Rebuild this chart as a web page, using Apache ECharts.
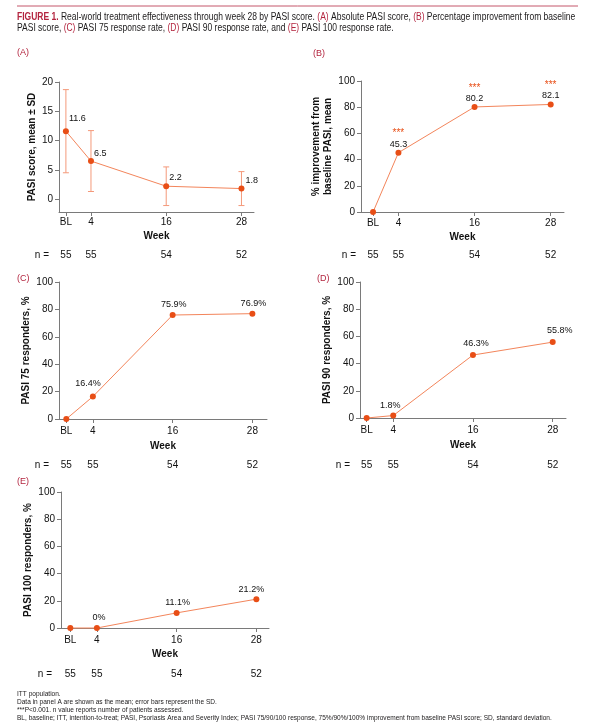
<!DOCTYPE html>
<html>
<head>
<meta charset="utf-8">
<script src="https://cdn.jsdelivr.net/npm/echarts@6/dist/echarts.min.js"></script>
<style>
  html, body { margin: 0; background: #fff; }
  #chart { width: 600px; height: 728px; }
</style>
</head>
<body>
<div id="chart"></div>
<script>
// data
const weeks = [0, 4, 16, 28];
const weekLabels = ['BL', '4', '16', '28'];
const nPatients = [55, 55, 54, 52];
const pasiMean = [11.6, 6.5, 2.2, 1.8];
const pasiSd = [7.1, 5.2, 3.3, 2.9];
const improvement = [0, 45.3, 80.2, 82.1];
const improvementSig = ['', '***', '***', '***'];
const pasi75 = [0, 16.4, 75.9, 76.9];
const pasi90 = [0, 1.8, 46.3, 55.8];
const pasi100 = [0, 0, 11.1, 21.2];
const pasiTicks = [0, 5, 10, 15, 20];
const pctTicks = [0, 20, 40, 60, 80, 100];

const dotColor = '#e84e16';
const lineColor = '#f3855b';
const errColor = '#f4997a';
const axisColor = '#7a7a7a';
const red = '#b3253f';
const sans = 'Liberation Sans, Arial, sans-serif';

const chart = echarts.init(document.getElementById('chart'), null, { renderer: 'canvas' });

// one entry per panel; nudge = small label offsets so labels clear the line
const panels = [
  { tag: '(A)', tagPos: [17, 48], grid: { left: 59, top: 82, width: 195, height: 130 },
    xRange: [-1.1, 30], yRange: [-2.2, 20], yTicks: pasiTicks, values: pasiMean,
    nudge: [[0, -13], [0, -8], [0, -9], [1, -8]],
    yName: 'PASI score, mean ± SD', yGap: 21, tickMargin: 5, weekGap: 19, nOffset: 43, nGap: 10 },
  { tag: '(B)', tagPos: [313, 49], grid: { left: 361, top: 81, width: 203, height: 131 },
    xRange: [-1.9, 30.1], yRange: [0, 100], yTicks: pctTicks, values: improvement,
    nudge: [[0, 0], [0, 0], [0, 0], [0, 0]],
    yName: '% improvement from\nbaseline PASI, mean', yGap: 20, tickMargin: 6, weekGap: 20, nOffset: 43, nGap: 5 },
  { tag: '(C)', tagPos: [17, 274], grid: { left: 59, top: 282, width: 208, height: 137 },
    xRange: [-1.1, 30.2], yRange: [0, 100], yTicks: pctTicks, values: pasi75,
    nudge: [[0, 0], [-5, -3], [1, 0], [1, 0]],
    yName: 'PASI 75 responders, %', yGap: 26, tickMargin: 7, weekGap: 22, nOffset: 46, nGap: 10 },
  { tag: '(D)', tagPos: [317, 274], grid: { left: 360, top: 282, width: 206, height: 136 },
    xRange: [-1.0, 30.0], yRange: [0, 100], yTicks: pctTicks, values: pasi90,
    nudge: [[0, 0], [-3, 0], [3, -1], [7, -1]],
    yName: 'PASI 90 responders, %', yGap: 27, tickMargin: 7, weekGap: 22, nOffset: 47, nGap: 10 },
  { tag: '(E)', tagPos: [17, 477], grid: { left: 61, top: 492, width: 208, height: 136 },
    xRange: [-1.4, 29.9], yRange: [0, 100], yTicks: pctTicks, values: pasi100,
    nudge: [[0, 0], [2, 0], [1, 0], [-5, 1]],
    yName: 'PASI 100 responders, %', yGap: 25, tickMargin: 7, weekGap: 21, nOffset: 46, nGap: 9 }
];

const grids = [];
const xAxes = [];
const yAxes = [];
const series = [];
const titles = [];

panels.forEach((p, k) => {
  grids.push(Object.assign({ containLabel: false, outerBoundsMode: 'none' }, p.grid));

  // week axis
  xAxes.push({
    type: 'value', gridIndex: k, position: 'bottom', min: p.xRange[0], max: p.xRange[1],
    axisLine: { show: true, onZero: false, lineStyle: { color: axisColor, width: 1 } },
    axisTick: { show: true, length: 4, customValues: weeks, lineStyle: { color: axisColor } },
    axisLabel: {
      customValues: weeks, margin: p.tickMargin, fontSize: 10, color: '#111', fontFamily: sans,
      formatter: v => weekLabels[weeks.indexOf(v)]
    },
    splitLine: { show: false },
    name: 'Week', nameLocation: 'middle', nameGap: p.weekGap,
    nameTextStyle: { fontSize: 10, fontWeight: 'bold', color: '#111', fontFamily: sans }
  });
  // n row under the axis
  xAxes.push({
    type: 'value', gridIndex: k, position: 'bottom', min: p.xRange[0], max: p.xRange[1], offset: p.nOffset,
    axisLine: { show: false, onZero: false }, axisTick: { show: false }, splitLine: { show: false },
    axisLabel: {
      customValues: weeks, margin: 0, verticalAlign: 'middle', fontSize: 10, color: '#111', fontFamily: sans,
      formatter: v => String(nPatients[weeks.indexOf(v)])
    },
    name: 'n =', nameLocation: 'start', nameGap: p.nGap,
    nameTextStyle: { fontSize: 10, color: '#111', fontFamily: sans, align: 'right', verticalAlign: 'middle' }
  });

  yAxes.push({
    type: 'value', gridIndex: k, position: 'left', min: p.yRange[0], max: p.yRange[1],
    axisLine: { show: true, onZero: false, lineStyle: { color: axisColor, width: 1 } },
    axisTick: { show: true, length: 4, customValues: p.yTicks, lineStyle: { color: axisColor } },
    axisLabel: { customValues: p.yTicks, margin: 6, fontSize: 10, color: '#111', fontFamily: sans },
    splitLine: { show: false },
    name: p.yName, nameLocation: 'middle', nameRotate: 90, nameGap: p.yGap,
    nameTextStyle: { fontSize: 10, fontWeight: 'bold', color: '#111', fontFamily: sans, lineHeight: 12 }
  });

  titles.push({
    text: p.tag, left: p.tagPos[0], top: p.tagPos[1], padding: 0,
    textStyle: { fontSize: 9, fontWeight: 'normal', color: red, fontFamily: sans }
  });
});

// panel A: SD error bars
series.push({
  type: 'custom', xAxisIndex: 0, yAxisIndex: 0, z: 1, clip: false,
  data: weeks.map((w, i) => [w, pasiMean[i] - pasiSd[i], pasiMean[i] + pasiSd[i]]),
  encode: { x: 0, y: [1, 2] },
  renderItem: (params, api) => {
    const lo = api.coord([api.value(0), api.value(1)]);
    const hi = api.coord([api.value(0), api.value(2)]);
    const cap = 3;
    const st = { stroke: errColor, lineWidth: 1 };
    return {
      type: 'group',
      children: [
        { type: 'line', shape: { x1: lo[0], y1: lo[1], x2: hi[0], y2: hi[1] }, style: st },
        { type: 'line', shape: { x1: lo[0] - cap, y1: lo[1], x2: lo[0] + cap, y2: lo[1] }, style: st },
        { type: 'line', shape: { x1: hi[0] - cap, y1: hi[1], x2: hi[0] + cap, y2: hi[1] }, style: st }
      ]
    };
  }
});

panels.forEach((p, k) => {
  let label;
  if (k === 0) {
    label = { show: true, position: 'right', distance: 0,
      fontSize: 9, color: '#111', fontFamily: sans, formatter: d => d.value[1].toFixed(1) };
  } else if (k === 1) {
    label = { show: true, position: 'top', distance: 0,
      formatter: d => d.dataIndex === 0 ? '' :
        '{s|' + improvementSig[d.dataIndex] + '}\n{v|' + d.value[1].toFixed(1) + '}',
      rich: {
        s: { fontSize: 10, color: dotColor, fontFamily: sans, lineHeight: 10, align: 'center' },
        v: { fontSize: 9, color: '#111', fontFamily: sans, lineHeight: 11, align: 'center' }
      } };
  } else {
    label = { show: true, position: 'top', distance: 2, lineHeight: 11,
      fontSize: 9, color: '#111', fontFamily: sans,
      formatter: d => d.dataIndex === 0 ? '' : d.value[1] + '%' };
  }
  series.push({
    type: 'line', xAxisIndex: k * 2, yAxisIndex: k, z: 3, clip: false,
    data: weeks.map((w, i) => ({ value: [w, p.values[i]], label: { offset: p.nudge[i] } })),
    symbol: 'circle', symbolSize: 6,
    itemStyle: { color: dotColor },
    lineStyle: { color: lineColor, width: 1 },
    label: label,
    emphasis: { disabled: true }
  });
});

const captionText = '{b|FIGURE 1.} Real-world treatment effectiveness through week 28 by PASI score. {r|(A)} Absolute PASI score, {r|(B)} Percentage improvement from baseline\nPASI score, {r|(C)} PASI 75 response rate, {r|(D)} PASI 90 response rate, and {r|(E)} PASI 100 response rate.';
const footText = 'ITT population.\nData in panel A are shown as the mean; error bars represent the SD.\n***P<0.001. n value reports number of patients assessed.\nBL, baseline; ITT, intention-to-treat; PASI, Psoriasis Area and Severity Index; PASI 75/90/100 response, 75%/90%/100% improvement from baseline PASI score; SD, standard deviation.';

chart.setOption({
  animation: false,
  backgroundColor: '#fff',
  title: titles,
  graphic: [
    { type: 'line', shape: { x1: 17, y1: 6, x2: 578, y2: 6 },
      style: { stroke: '#c4576a', lineWidth: 1 } },
    { type: 'text', x: 17, y: 11, scaleX: 0.81,
      style: {
        text: captionText, fontSize: 10.5, fontFamily: sans, fill: '#1c1a1b', lineHeight: 11.5, verticalAlign: 'top',
        rich: {
          b: { fontSize: 10.5, fontWeight: 'bold', fill: red, fontFamily: sans, lineHeight: 11.5 },
          r: { fontSize: 10.5, fill: red, fontFamily: sans, lineHeight: 11.5 }
        }
      } },
    { type: 'text', x: 17, y: 690, scaleX: 0.84,
      style: { text: footText, fontSize: 7.8, fontFamily: sans, fill: '#1c1a1b', lineHeight: 8, verticalAlign: 'top' } }
  ],
  grid: grids,
  xAxis: xAxes,
  yAxis: yAxes,
  series: series
});
</script>
</body>
</html>
